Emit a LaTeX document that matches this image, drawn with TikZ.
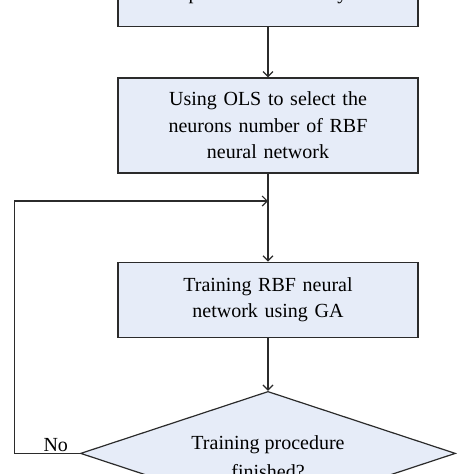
\documentclass[tikz,border=0pt]{standalone}
\usepackage{fontspec}
\setmainfont{Liberation Serif}
\usetikzlibrary{positioning,shapes.geometric,arrows.meta}
\definecolor{boxfill}{HTML}{E6ECF8}
\definecolor{linecol}{HTML}{2B2B2B}
\begin{document}
\begin{tikzpicture}[x=1pt, y=-1pt,
    stepbox/.style={rectangle, draw=linecol, fill=boxfill, line width=1.2pt,
        minimum width=300pt, text width=285pt, align=center,
        font=\fontsize{20}{26.5}\selectfont},
    decision/.style={diamond, draw=linecol, fill=boxfill, line width=1.2pt,
        aspect=3, minimum width=375pt, minimum height=124pt, inner sep=0pt},
    flow/.style={draw=linecol, line width=1.2pt,
        -{Straight Barb[length=5pt,width=10pt]}}]
\useasboundingbox (0,0) rectangle (474,474);
\clip (0,0) rectangle (474,474);
    \node [stepbox, minimum height=95pt] (ols) at (268,125.5)
        {Using OLS to select the\\ neurons number of RBF\\ neural network};
    \node [stepbox, minimum height=91.5pt, above=50pt of ols] (input)
        {Collect the samples and\\ pretreat the data by};
    \node [stepbox, minimum height=75pt, below=88pt of ols] (train)
        {Training RBF neural\\ network using GA};
    \node [decision, below=53pt of train] (check) {};
    \node [align=center, font=\fontsize{20}{29}\selectfont] (checktext)
        at ([yshift=-4pt]check.center) {Training procedure\\ finished?};
    \coordinate (join) at (268,201);
    \draw [flow] (input) -- (ols);
    \draw [flow] (ols) -- (train);
    \draw [flow] (train) -- (check);
    \draw [flow] (check.west) -- node [above, pos=0.37, inner sep=1.5pt,
        font=\fontsize{20}{26}\selectfont] (no) {No} ++(-65.3,0) |- (join);
\end{tikzpicture}
\end{document}
